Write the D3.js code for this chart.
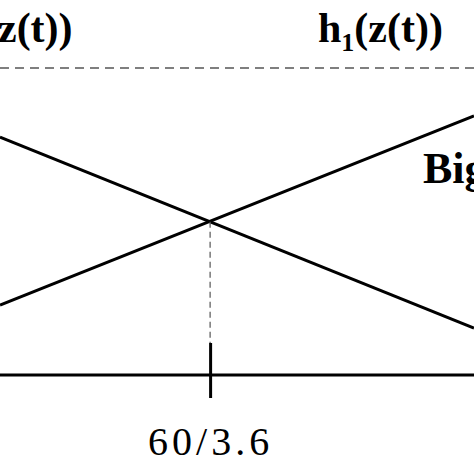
<!DOCTYPE html>
<html>
<head>
<meta charset="utf-8">
<script src="https://cdn.jsdelivr.net/npm/d3@7"></script>
<style>
  body { margin: 0; background: #fff; }
</style>
</head>
<body>
<div id="chart"></div>
<script>
// membership functions (speed in m/s)
var speeds = [0, 37.6];
var smallMu = [0.775, 0.153];
var bigMu = [0.228, 0.844];
var crossSpeed = 60 / 3.6;
var tickLabels = ["60/3.6"];

var svgWidth = 474;
var svgHeight = 474;

var svg = d3.select("#chart")
  .append("svg")
  .attr("width", svgWidth)
  .attr("height", svgHeight);

// scales
var xScale = d3.scaleLinear().domain([0, 37.6]).range([0, 474]);
var yScale = d3.scaleLinear().domain([0, 1]).range([375, 68]);

var line = d3.line()
  .x(d => xScale(d[0]))
  .y(d => yScale(d[1]));

// dashed line at membership 1
svg.append("line")
  .attr("x1", 0).attr("x2", svgWidth)
  .attr("y1", yScale(1)).attr("y2", yScale(1))
  .attr("stroke", "#555").attr("stroke-width", 1.6)
  .attr("stroke-dasharray", "9,6");

// x axis
var bottomAxis = d3.axisBottom(xScale)
  .tickValues([crossSpeed])
  .tickFormat((d, i) => tickLabels[i])
  .tickSize(0);

var axisG = svg.append("g")
  .attr("transform", `translate(0, ${yScale(0)})`)
  .call(bottomAxis);
axisG.select(".domain").remove();
axisG.selectAll("text").remove();

axisG.append("line")
  .attr("x1", 0).attr("x2", svgWidth)
  .attr("stroke", "#000").attr("stroke-width", 3);

axisG.selectAll(".tick").append("line")
  .attr("y1", -32).attr("y2", 23)
  .attr("stroke", "#000").attr("stroke-width", 3);

axisG.selectAll(".tick").append("text")
  .attr("y", 80)
  .attr("text-anchor", "middle")
  .attr("fill", "#000")
  .style("font-family", "'Liberation Serif', serif")
  .style("font-size", "40px")
  .style("letter-spacing", "4px")
  .text((d, i) => tickLabels[i]);

// membership lines
svg.append("path")
  .datum(speeds.map((s, i) => [s, smallMu[i]]))
  .attr("d", line)
  .attr("fill", "none").attr("stroke", "#000").attr("stroke-width", 3);

svg.append("path")
  .datum(speeds.map((s, i) => [s, bigMu[i]]))
  .attr("d", line)
  .attr("fill", "none").attr("stroke", "#000").attr("stroke-width", 3);

// dashed drop from intersection
var crossMu = smallMu[0] + (smallMu[1] - smallMu[0]) * (crossSpeed - speeds[0]) / (speeds[1] - speeds[0]);
svg.append("line")
  .attr("x1", xScale(crossSpeed)).attr("x2", xScale(crossSpeed))
  .attr("y1", yScale(crossMu)).attr("y2", yScale(0) - 32)
  .attr("stroke", "#555").attr("stroke-width", 1.2)
  .attr("stroke-dasharray", "6,4");

// labels
var serif = "'Liberation Serif', serif";
function label(x, y, txt, size, sub) {
  var t = svg.append("text")
    .attr("x", x).attr("y", y)
    .style("font-family", serif)
    .style("font-weight", "bold")
    .style("font-size", size + "px");
  if (sub) {
    t.append("tspan").text("h");
    t.append("tspan").attr("dy", 9).style("font-size", "26px").text(sub);
    t.append("tspan").attr("dy", -9).text(txt);
  } else {
    t.text(txt);
  }
}
label(-16, 42, "(z(t))", 42);
label(318, 42, "(z(t))", 42, "1");
label(423, 183, "Big", 44);
label(-17, 183, "l", 44);
</script>
</body>
</html>
